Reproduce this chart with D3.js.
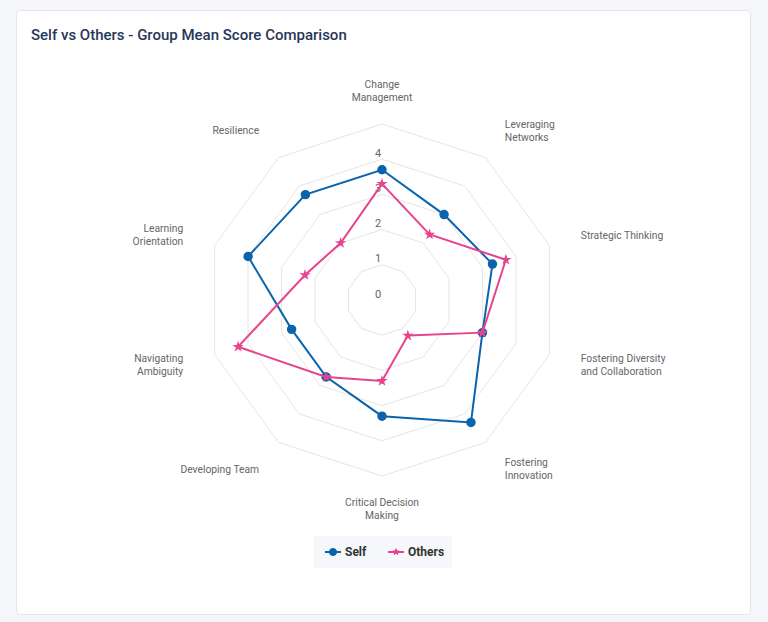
<!DOCTYPE html>
<html>
<head>
<meta charset="utf-8">
<script src="https://cdn.jsdelivr.net/npm/d3@7"></script>
<style>
  html, body { margin: 0; padding: 0; background: #f5f6f9; }
  svg { display: block; font-family: Roboto, "Noto Sans", sans-serif; }
</style>
</head>
<body>
<svg id="chart" width="768" height="622"></svg>
<script>
// data
var categories = [
	["Change", "Management"],
	["Leveraging", "Networks"],
	["Strategic Thinking"],
	["Fostering Diversity", "and Collaboration"],
	["Fostering", "Innovation"],
	["Critical Decision", "Making"],
	["Developing Team"],
	["Navigating", "Ambiguity"],
	["Learning", "Orientation"],
	["Resilience"]
];
var selfScores   = [3.7, 3.0, 3.3, 3.0, 4.3, 3.3, 2.7, 2.7, 4.0, 3.7];
var othersScores = [3.3, 2.3, 3.7, 3.0, 1.25, 2.3, 2.7, 4.3, 2.3, 2.0];
var tickValues = [0, 1, 2, 3, 4];
var gridLevels = [1, 2, 3, 4, 5];
var seriesNames = ["Self", "Others"];

var svg = d3.select("#chart");
var cx = 382, cy = 300, radius = 176;
var n = categories.length;

var r = d3.scaleLinear().domain([0, 5]).range([0, radius]);
var angle = d3.scaleLinear().domain([0, n]).range([0, 2 * Math.PI]);

function pt(i, rr) {
	var a = angle(i);
	return [cx + rr * Math.sin(a), cy - rr * Math.cos(a)];
}

// card
svg.append("rect")
	.attr("x", 16.5).attr("y", 10.5)
	.attr("width", 734).attr("height", 604)
	.attr("rx", 4)
	.attr("fill", "#fff")
	.attr("stroke", "#e2e5ea");

svg.append("text")
	.attr("x", 31).attr("y", 40)
	.attr("font-size", 15).attr("font-weight", 500)
	.attr("fill", "#27375a")
	.text("Self vs Others - Group Mean Score Comparison");

var g = svg.append("g");

// grid rings
gridLevels.forEach(function(lv) {
	var pts = d3.range(n).map(function(i) { return pt(i, r(lv)); });
	g.append("polygon")
		.attr("points", pts.map(function(p) { return p.join(","); }).join(" "))
		.attr("fill", "none")
		.attr("stroke", "#e6e6e6")
		.attr("stroke-width", 1);
});

// tick labels
g.selectAll(".tick").data(tickValues).enter().append("text")
	.attr("x", cx - 4)
	.attr("y", function(d) { return cy - r(d) - 6; })
	.attr("text-anchor", "middle")
	.attr("dominant-baseline", "central")
	.attr("font-size", 11)
	.attr("fill", "#666")
	.text(function(d) { return d; });

// point labels
var labelR = 209, lineH = 13;
categories.forEach(function(lines, i) {
	var p = pt(i, labelR);
	var dx = p[0] - cx;
	var anchor = Math.abs(dx) < 2 ? "middle" : (dx > 0 ? "start" : "end");
	var t = g.append("text")
		.attr("text-anchor", anchor)
		.attr("font-size", 10.3)
		.attr("fill", "#666");
	lines.forEach(function(s, k) {
		t.append("tspan")
			.attr("x", p[0])
			.attr("y", p[1] + (k - (lines.length - 1) / 2) * lineH)
			.attr("dominant-baseline", "central")
			.text(s);
	});
});

var line = d3.lineRadial()
	.angle(function(d, i) { return angle(i); })
	.radius(function(d) { return r(d); })
	.curve(d3.curveLinearClosed);

var series = [
	{ name: seriesNames[0], values: selfScores, color: "#0a64ad", symbol: d3.symbolCircle, size: 50 },
	{ name: seriesNames[1], values: othersScores, color: "#e8438d", symbol: d3.symbolStar, size: 14 }
];

series.forEach(function(s) {
	var sg = g.append("g").attr("transform", "translate(" + cx + "," + cy + ")");
	sg.append("path")
		.attr("d", line(s.values))
		.attr("fill", "none")
		.attr("stroke", s.color)
		.attr("stroke-width", 2);
	sg.selectAll(".pt").data(s.values).enter().append("path")
		.attr("transform", function(d, i) {
			var a = angle(i);
			return "translate(" + (r(d) * Math.sin(a)) + "," + (-r(d) * Math.cos(a)) + ")";
		})
		.attr("d", d3.symbol().type(s.symbol).size(s.size))
		.attr("fill", s.color)
		.attr("stroke", s.color)
		.attr("stroke-width", 1.5);
});

// legend
var lg = svg.append("g");
lg.append("rect")
	.attr("x", 314).attr("y", 536)
	.attr("width", 138).attr("height", 32)
	.attr("fill", "#f5f7fa");
var lx = [325, 388];
series.forEach(function(s, i) {
	var x0 = lx[i];
	lg.append("line")
		.attr("x1", x0).attr("x2", x0 + 16)
		.attr("y1", 552).attr("y2", 552)
		.attr("stroke", s.color).attr("stroke-width", 2);
	lg.append("path")
		.attr("transform", "translate(" + (x0 + 8) + ",552)")
		.attr("d", d3.symbol().type(s.symbol).size(s.size * 0.8))
		.attr("fill", s.color).attr("stroke", s.color).attr("stroke-width", 1);
	lg.append("text")
		.attr("x", x0 + 20).attr("y", 552)
		.attr("dominant-baseline", "central")
		.attr("font-size", 12).attr("font-weight", 700)
		.attr("fill", "#333")
		.text(s.name);
});
</script>
</body>
</html>
